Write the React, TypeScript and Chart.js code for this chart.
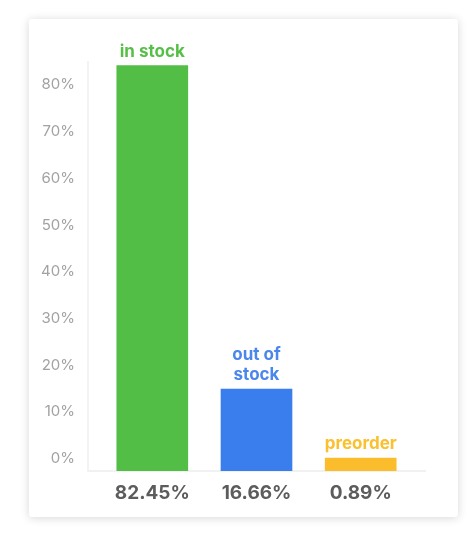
import React, { useEffect, useRef } from "react";
import Chart from "chart.js/auto";

// data
const categories: string[][] = [["in stock"], ["out of", "stock"], ["preorder"]];
const shares: number[] = [82.45, 16.66, 0.89];
const barColors: string[] = ["#52be45", "#3a7eee", "#fbbd2b"];
const labelColors: string[] = ["#56bf48", "#4a86ec", "#fbc02d"];
const tickValues: number[] = [0, 10, 20, 30, 40, 50, 60, 70, 80];

const FONT = "Inter, 'Open Sans', sans-serif";

// names above each bar, drawn from the bar element's own position
const topLabels = {
  id: "topLabels",
  afterDatasetsDraw(chart: any) {
    const meta = chart.getDatasetMeta(0);
    const ctx = chart.ctx;
    meta.data.forEach((bar: any, i: number) => {
      const lines = categories[i];
      ctx.save();
      ctx.font = `bold 17px ${FONT}`;
      ctx.fillStyle = labelColors[i];
      ctx.textAlign = "center";
      ctx.textBaseline = "alphabetic";
      lines.forEach((line, j) => {
        ctx.fillText(line, bar.x, bar.y - 9 - (lines.length - 1 - j) * 20);
      });
      ctx.restore();
    });
  },
};

const StockChart: React.FC = () => {
  const canvasRef = useRef<HTMLCanvasElement>(null);

  useEffect(() => {
    if (!canvasRef.current) return;
    const ctx = canvasRef.current.getContext("2d");
    if (!ctx) return;

    const chart = new Chart(ctx, {
      type: "bar",
      data: {
        datasets: [
          {
            data: shares.map((v, i) => ({ x: i, y: v })),
            backgroundColor: barColors,
            barThickness: 71,
            minBarLength: 13,
            yAxisID: "y",
          },
        ],
      },
      options: {
        animation: false,
        responsive: true,
        maintainAspectRatio: false,
        layout: { padding: { top: 43, right: 33, left: 0, bottom: 0 } },
        plugins: {
          legend: { display: false },
          tooltip: { enabled: false },
        },
        scales: {
          x: {
            type: "linear",
            offset: false,
            min: -0.617,
            max: 2.617,
            afterBuildTicks: (s: any) => {
              s.ticks = shares.map((_, i) => ({ value: i }));
            },
            afterFit: (s: any) => {
              s.height = 46;
            },
            grid: { display: false, drawTicks: false, offset: false },
            border: { display: true, color: "#f1f1f1", width: 2 },
            ticks: {
              padding: 11,
              color: "#5c5c5c",
              font: { family: FONT, size: 19, weight: "bold" },
              callback: (_v: any, i: number) => shares[i].toFixed(2) + "%",
            },
          },
          y: {
            display: false,
            min: 0,
            max: 83.2,
          },
          yt: {
            position: "left",
            min: -2.68,
            max: 84.92,
            afterBuildTicks: (s: any) => {
              s.ticks = tickValues.map((v) => ({ value: v }));
            },
            afterFit: (s: any) => {
              s.width = 59;
            },
            grid: { display: false, drawTicks: false },
            border: { display: true, color: "#f3f3f3", width: 2 },
            ticks: {
              padding: 13,
              color: "#a2a2a2",
              font: { family: FONT, size: 15 },
              callback: (v: any) => v + "%",
            },
          },
        },
      },
      plugins: [topLabels],
    });

    return () => {
      chart.destroy();
    };
  }, []);

  return (
    <div
      style={{
        position: "absolute",
        left: 29,
        top: 19,
        width: 429,
        height: 498,
        background: "#fff",
        borderRadius: 3,
        boxShadow: "0 1px 10px rgba(0,0,0,0.16)",
      }}
    >
      <canvas ref={canvasRef}></canvas>
    </div>
  );
};

export default function App() {
  return <StockChart />;
}
